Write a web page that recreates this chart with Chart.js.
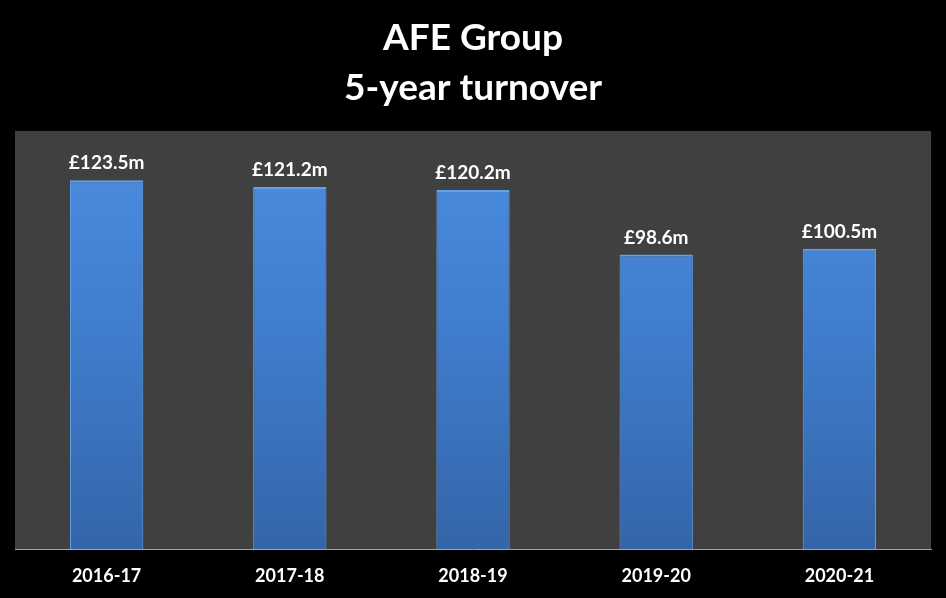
<!DOCTYPE html>
<html>
<head>
<meta charset="utf-8">
<script src="https://cdn.jsdelivr.net/npm/chart.js@4/dist/chart.umd.min.js"></script>
<style>
  html, body { margin: 0; padding: 0; background: #000; }
  #wrap { width: 946px; height: 598px; }
</style>
</head>
<body>
<div id="wrap"><canvas id="c"></canvas></div>
<script>
const titleLines = ["AFE Group", "5-year turnover"];
const categories = ["2016-17", "2017-18", "2018-19", "2019-20", "2020-21"];
const turnover = [123.5, 121.2, 120.2, 98.6, 100.5];
const valueLabels = ["£123.5m", "£121.2m", "£120.2m", "£98.6m", "£100.5m"];

const plotBg = {
  id: 'plotBg',
  beforeDraw(chart) {
    const { ctx, chartArea: a } = chart;
    ctx.save();
    ctx.fillStyle = '#404040';
    ctx.fillRect(a.left, a.top, a.right - a.left, a.bottom - a.top);
    ctx.restore();
  }
};

const barLabels = {
  id: 'barLabels',
  afterDatasetsDraw(chart) {
    const { ctx } = chart;
    const meta = chart.getDatasetMeta(0);
    ctx.save();
    ctx.fillStyle = '#ffffff';
    ctx.font = 'bold 19px Lato';
    ctx.textAlign = 'center';
    ctx.textBaseline = 'middle';
    meta.data.forEach((bar, i) => {
      ctx.fillText(valueLabels[i], bar.x, bar.y - 17);
    });
    ctx.restore();
  }
};

function barFill(context) {
  const a = context.chart.chartArea;
  if (!a) return '#4080d0';
  const g = context.chart.ctx.createLinearGradient(0, a.top, 0, a.bottom);
  g.addColorStop(0, '#4c8ee2');
  g.addColorStop(0.5, '#3f7ccc');
  g.addColorStop(1, '#3465a8');
  return g;
}

new Chart(document.getElementById('c'), {
  type: 'bar',
  data: {
    labels: categories,
    datasets: [{
      data: turnover,
      backgroundColor: barFill,
      borderColor: '#62a2ec',
      borderWidth: { top: 2, left: 1, right: 1, bottom: 0 },
      categoryPercentage: 1.0,
      barPercentage: 0.4
    }]
  },
  options: {
    responsive: true,
    maintainAspectRatio: false,
    animation: false,
    layout: { padding: { left: 15, right: 15, top: 0, bottom: 0 } },
    plugins: {
      legend: { display: false },
      tooltip: { enabled: false },
      title: {
        display: true,
        text: titleLines,
        color: '#ffffff',
        font: { family: 'Lato', size: 37, weight: 'bold', lineHeight: 1.35 },
        padding: { top: 13, bottom: 18 }
      }
    },
    scales: {
      x: {
        grid: { display: false, drawTicks: false },
        border: { display: true, color: '#a6a6a6', width: 1 },
        ticks: {
          color: '#ffffff',
          font: { family: 'Lato', size: 18, weight: 'bold' },
          padding: 16,
          maxRotation: 0
        },
        afterFit(scale) { scale.height = 49; }
      },
      y: {
        display: false,
        min: 0,
        max: 140
      }
    }
  },
  plugins: [plotBg, barLabels]
});
</script>
</body>
</html>
